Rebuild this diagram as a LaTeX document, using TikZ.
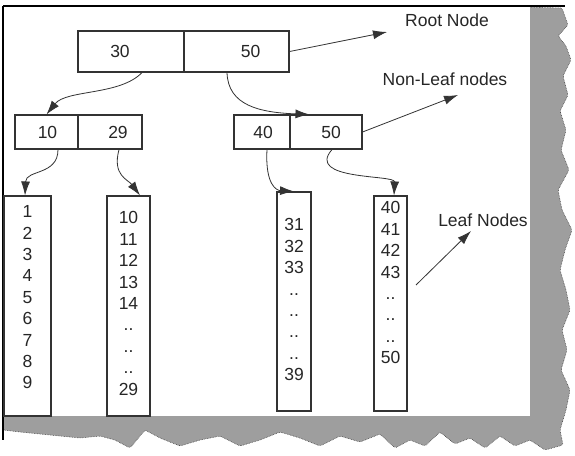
\documentclass[tikz,border=0pt]{standalone}
\usepackage{fontspec}
\setmainfont{Liberation Sans}
\usetikzlibrary{arrows.meta}
\tikzset{%
	cell/.style  = {draw=black!80, line width=1.1pt, rectangle, minimum height=34pt,
		inner sep=0pt},
	leaf/.style  = {draw=black!80, line width=1.1pt, rectangle, inner sep=0pt},
	tag/.style   = {inner sep=0pt}, % side labels
	link/.style  = {draw=black!80, line width=0.8pt, -{Latex[length=14pt,width=9pt]}},
	paper/.style = {fill=black!38, draw=black!75, densely dotted, line width=0.6pt}
}

\begin{document}
\begin{tikzpicture}[x=1pt, y=-1pt,
		every node/.style={font=\fontsize{17.5}{21.4}\selectfont, text=black!85}]
			\useasboundingbox (0,0) rectangle (575,455);
			% torn page
			\draw[paper, rounded corners=1.5pt] (520,7) -- (562,8) -- (568,25) -- (558,36) -- (566,46) -- (571,60)
				-- (563,76) -- (568,95) -- (560,111) -- (566,130) -- (561,150) -- (569,170)
				-- (558,190) -- (562,210) -- (572,230) -- (565,250) -- (560,270) -- (566,290)
				-- (570,310) -- (562,330) -- (567,350) -- (561,370) -- (570,390) -- (566,410)
				-- (560,430) -- (563,445) -- (545,450) -- (530,440) -- (515,446) -- (500,436)
				-- (485,448) -- (470,438) -- (455,444) -- (440,432) -- (425,446) -- (410,440)
				-- (395,448) -- (380,434) -- (360,442) -- (340,436) -- (320,446) -- (300,438)
				-- (280,432) -- (260,440) -- (240,446) -- (220,436) -- (200,440) -- (180,446)
				-- (160,438) -- (145,430) -- (130,448) -- (115,440) -- (100,436) -- (80,438)
				-- (60,436) -- (40,434) -- (20,432) -- (3,430) -- (3,300) -- cycle;
			\fill[white] (3,6) rectangle (530,416);
			\draw[line width=2.5pt] (3,6) -- (565,6);
			\draw[line width=1.8pt] (3,6) -- (3,440);

			% root
			\node[cell, minimum height=41pt, minimum width=106pt, label={[xshift=-11pt]center:30}] (r30) at (131,51.5) {};
			\node[cell, minimum height=41pt, minimum width=105pt, label={[xshift=14pt]center:50}] (r50) at (236.5,51.5) {};

			% non-leaf
			\node[cell, minimum width=63pt, label={[xshift=1pt]center:10}] (i10) at (46.5,132) {};
			\node[cell, minimum width=64pt, label={[xshift=8pt]center:29}] (i29) at (110,132) {};
			\node[cell, minimum width=56pt, label={[xshift=1pt]center:40}] (i40) at (262,132) {};
			\node[cell, minimum width=72pt, label={[xshift=5pt]center:50}] (i50) at (326,132) {};

			% leaves
			\node[leaf, minimum width=47pt, minimum height=220pt,
				label={[anchor=north, yshift=-10pt, align=center, inner sep=0pt]north:{1\\2\\3\\4\\5\\6\\7\\8\\9}}] (leafA) at (27.5,306) {};
			\node[leaf, minimum width=43pt, minimum height=220pt,
				label={[anchor=north, yshift=-16pt, align=center, inner sep=0pt]north:{10\\11\\12\\13\\14\\..\\..\\..\\29}}] (leafB) at (128.5,306) {};
			\node[leaf, minimum width=34pt, minimum height=219pt,
				label={[anchor=north, yshift=-27pt, align=center, inner sep=0pt]north:{31\\32\\33\\..\\..\\..\\..\\39}}] (leafC) at (294,301.5) {};
			\node[leaf, minimum width=33pt, minimum height=215pt,
				label={[anchor=north, yshift=-6pt, align=center, inner sep=0pt]north:{40\\41\\42\\43\\..\\..\\..\\50}}] (leafD) at (390.5,303.5) {};

			% side labels
			\node[tag] (rootlbl) at (447,20) {Root Node};
			\node[tag] (innerlbl) at (445,79) {Non-Leaf nodes};
			\node[tag] (leaflbl) at (483,220) {Leaf Nodes};
			\coordinate (rootTip) at (387,32);
			\coordinate (innerTip) at (458,95);
			\coordinate (leafFoot) at (416,285);
			\coordinate (leafTip) at (471,231);

			\draw[link] (r50.east) -- (rootTip);
			\draw[link] (i50.east) -- (innerTip);
			\draw[link] (leafFoot) -- (leafTip);

			% tree links
			\draw[link] ([xshift=11pt]r30.south) .. controls +(-22,23) and +(20,-25) .. (i10.north);
			\draw[link] ([xshift=-9.5pt]r50.south) .. controls +(1,33) and +(-50,-2) .. ([xshift=20pt]i50.north west);
			\draw[link] ([xshift=11.5pt]i10.south) .. controls +(0,26) and +(1,-26) .. ([xshift=-2.5pt]leafA.north);
			\draw[link] ([xshift=9pt]i29.south) .. controls +(-7,26) and +(-12,-16) .. ([xshift=11.5pt]leafB.north);
			\draw[link] ([xshift=5pt]i40.south) .. controls +(-2,36) and +(-17,-1) .. (leafC.north);
			\draw[link] ([xshift=6pt]i50.south) .. controls +(-27,31) and +(1,-21) .. ([xshift=3.5pt]leafD.north);
		\end{tikzpicture}
\end{document}
